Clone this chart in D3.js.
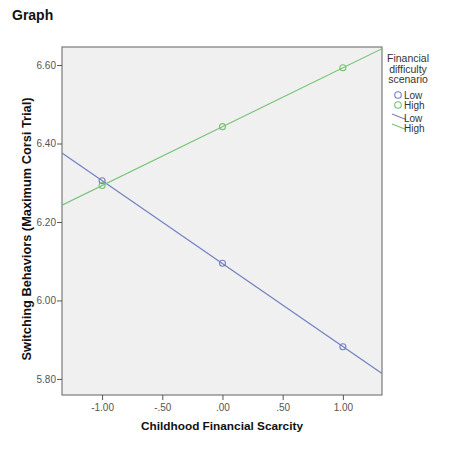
<!DOCTYPE html>
<html>
<head>
<meta charset="utf-8">
<script src="https://cdn.jsdelivr.net/npm/d3@7"></script>
<style>
  body { margin: 0; background: #fff; }
  text { font-family: Arial, "Liberation Sans", sans-serif; }
</style>
</head>
<body>
<div id="chart"></div>
<script>
// values
var xValues = [-1, 0, 1];
var lowValues = [6.305, 6.095, 5.882];
var highValues = [6.293, 6.443, 6.593];
var seriesNames = ["Low", "High"];
var xTicks = [-1, -0.5, 0, 0.5, 1];
var yTicks = [5.8, 6.0, 6.2, 6.4, 6.6];

var colors = { Low: "#7381c2", High: "#74c474" };

var width = 474, height = 457;
var plotLeft = 62, plotTop = 47, plotRight = 382, plotBottom = 395;

var svg = d3.select("#chart").append("svg")
    .attr("width", width)
    .attr("height", height);

svg.append("text")
    .attr("x", 12).attr("y", 20)
    .attr("font-size", "14px").attr("font-weight", "bold")
    .attr("fill", "#111")
    .text("Graph");

var xScale = d3.scaleLinear().domain([-1.333, 1.325]).range([plotLeft, plotRight]);
var yScale = d3.scaleLinear().domain([5.759, 6.646]).range([plotBottom, plotTop]);

svg.append("rect")
    .attr("x", plotLeft).attr("y", plotTop)
    .attr("width", plotRight - plotLeft).attr("height", plotBottom - plotTop)
    .attr("fill", "#f0f0f0")
    .attr("stroke", "#7a7a7a").attr("stroke-width", 1.2);

// SPSS style labels: -1.00, -.50, .00, .50, 1.00
function spssFmt(d) {
    var s = Math.abs(d).toFixed(2).replace(/^0\./, ".");
    return (d < 0 ? "-" : "") + s;
}

var xAxis = d3.axisBottom(xScale).tickValues(xTicks).tickSize(5).tickSizeOuter(0)
    .tickFormat(spssFmt);
var yAxis = d3.axisLeft(yScale).tickValues(yTicks).tickSize(5).tickSizeOuter(0)
    .tickFormat(spssFmt);

var gx = svg.append("g")
    .attr("transform", "translate(0," + plotBottom + ")")
    .call(xAxis);
var gy = svg.append("g")
    .attr("transform", "translate(" + plotLeft + ",0)")
    .call(yAxis);
[gx, gy].forEach(function (g) {
    g.attr("font-size", 10).attr("font-family", "Arial, 'Liberation Sans', sans-serif");
    g.select(".domain").remove();
    g.selectAll("line").attr("stroke", "#555");
    g.selectAll("text").attr("fill", "#555");
});
gx.selectAll("text").attr("y", 9).attr("dy", "0.71em");
gy.selectAll("text").attr("x", -6);

// fit lines (least squares through the points, across the whole x range)
function fit(ys) {
    var mx = d3.mean(xValues), my = d3.mean(ys);
    var num = d3.sum(xValues, function (x, i) { return (x - mx) * (ys[i] - my); });
    var den = d3.sum(xValues, function (x) { return (x - mx) * (x - mx); });
    var b = num / den;
    return function (x) { return my + b * (x - mx); };
}

svg.append("clipPath").attr("id", "plotclip")
    .append("rect").attr("x", plotLeft).attr("y", plotTop)
    .attr("width", plotRight - plotLeft).attr("height", plotBottom - plotTop);

var series = [
    { name: "Low", values: lowValues },
    { name: "High", values: highValues }
];

series.forEach(function (s) {
    var f = fit(s.values);
    var xs = xScale.domain();
    svg.append("line")
        .attr("clip-path", "url(#plotclip)")
        .attr("x1", xScale(xs[0])).attr("y1", yScale(f(xs[0])))
        .attr("x2", xScale(xs[1])).attr("y2", yScale(f(xs[1])))
        .attr("stroke", colors[s.name]).attr("stroke-width", 1.2);
});

series.forEach(function (s) {
    svg.selectAll(null)
        .data(s.values)
        .enter()
        .append("circle")
        .attr("cx", function (d, i) { return xScale(xValues[i]); })
        .attr("cy", function (d) { return yScale(d); })
        .attr("r", 3)
        .attr("fill", "none")
        .attr("stroke", colors[s.name]).attr("stroke-width", 1.1);
});

// axis titles
svg.append("text")
    .attr("x", 222).attr("y", 430)
    .attr("text-anchor", "middle")
    .attr("font-size", "11.8px").attr("font-weight", "bold").attr("fill", "#111")
    .text("Childhood Financial Scarcity");

svg.append("text")
    .attr("transform", "translate(31,229) rotate(-90)")
    .attr("text-anchor", "middle")
    .attr("font-size", "12.8px").attr("font-weight", "bold").attr("fill", "#111")
    .text("Switching Behaviors (Maximum Corsi Trial)");

// legend
var legend = svg.append("g");
["Financial", "difficulty", "scenario"].forEach(function (t, i) {
    legend.append("text")
        .attr("x", 408).attr("y", 62 + i * 10.7)
        .attr("text-anchor", "middle")
        .attr("font-size", "10.5px").attr("fill", "#333")
        .text(t);
});
seriesNames.forEach(function (name, i) {
    var y = 95 + i * 10;
    legend.append("circle")
        .attr("cx", 398).attr("cy", y).attr("r", 3.3)
        .attr("fill", "none").attr("stroke", colors[name]).attr("stroke-width", 1.1);
    legend.append("text")
        .attr("x", 404).attr("y", y + 3.5)
        .attr("font-size", "10px").attr("fill", "#333")
        .text(name);
});
seriesNames.forEach(function (name, i) {
    var y = 118 + i * 10;
    legend.append("line")
        .attr("x1", 392).attr("y1", y - 4).attr("x2", 406).attr("y2", y + 1.5)
        .attr("stroke", colors[name]).attr("stroke-width", 1.2);
    legend.append("text")
        .attr("x", 404).attr("y", y + 3.5)
        .attr("font-size", "10px").attr("fill", "#333")
        .text(name);
});
</script>
</body>
</html>
